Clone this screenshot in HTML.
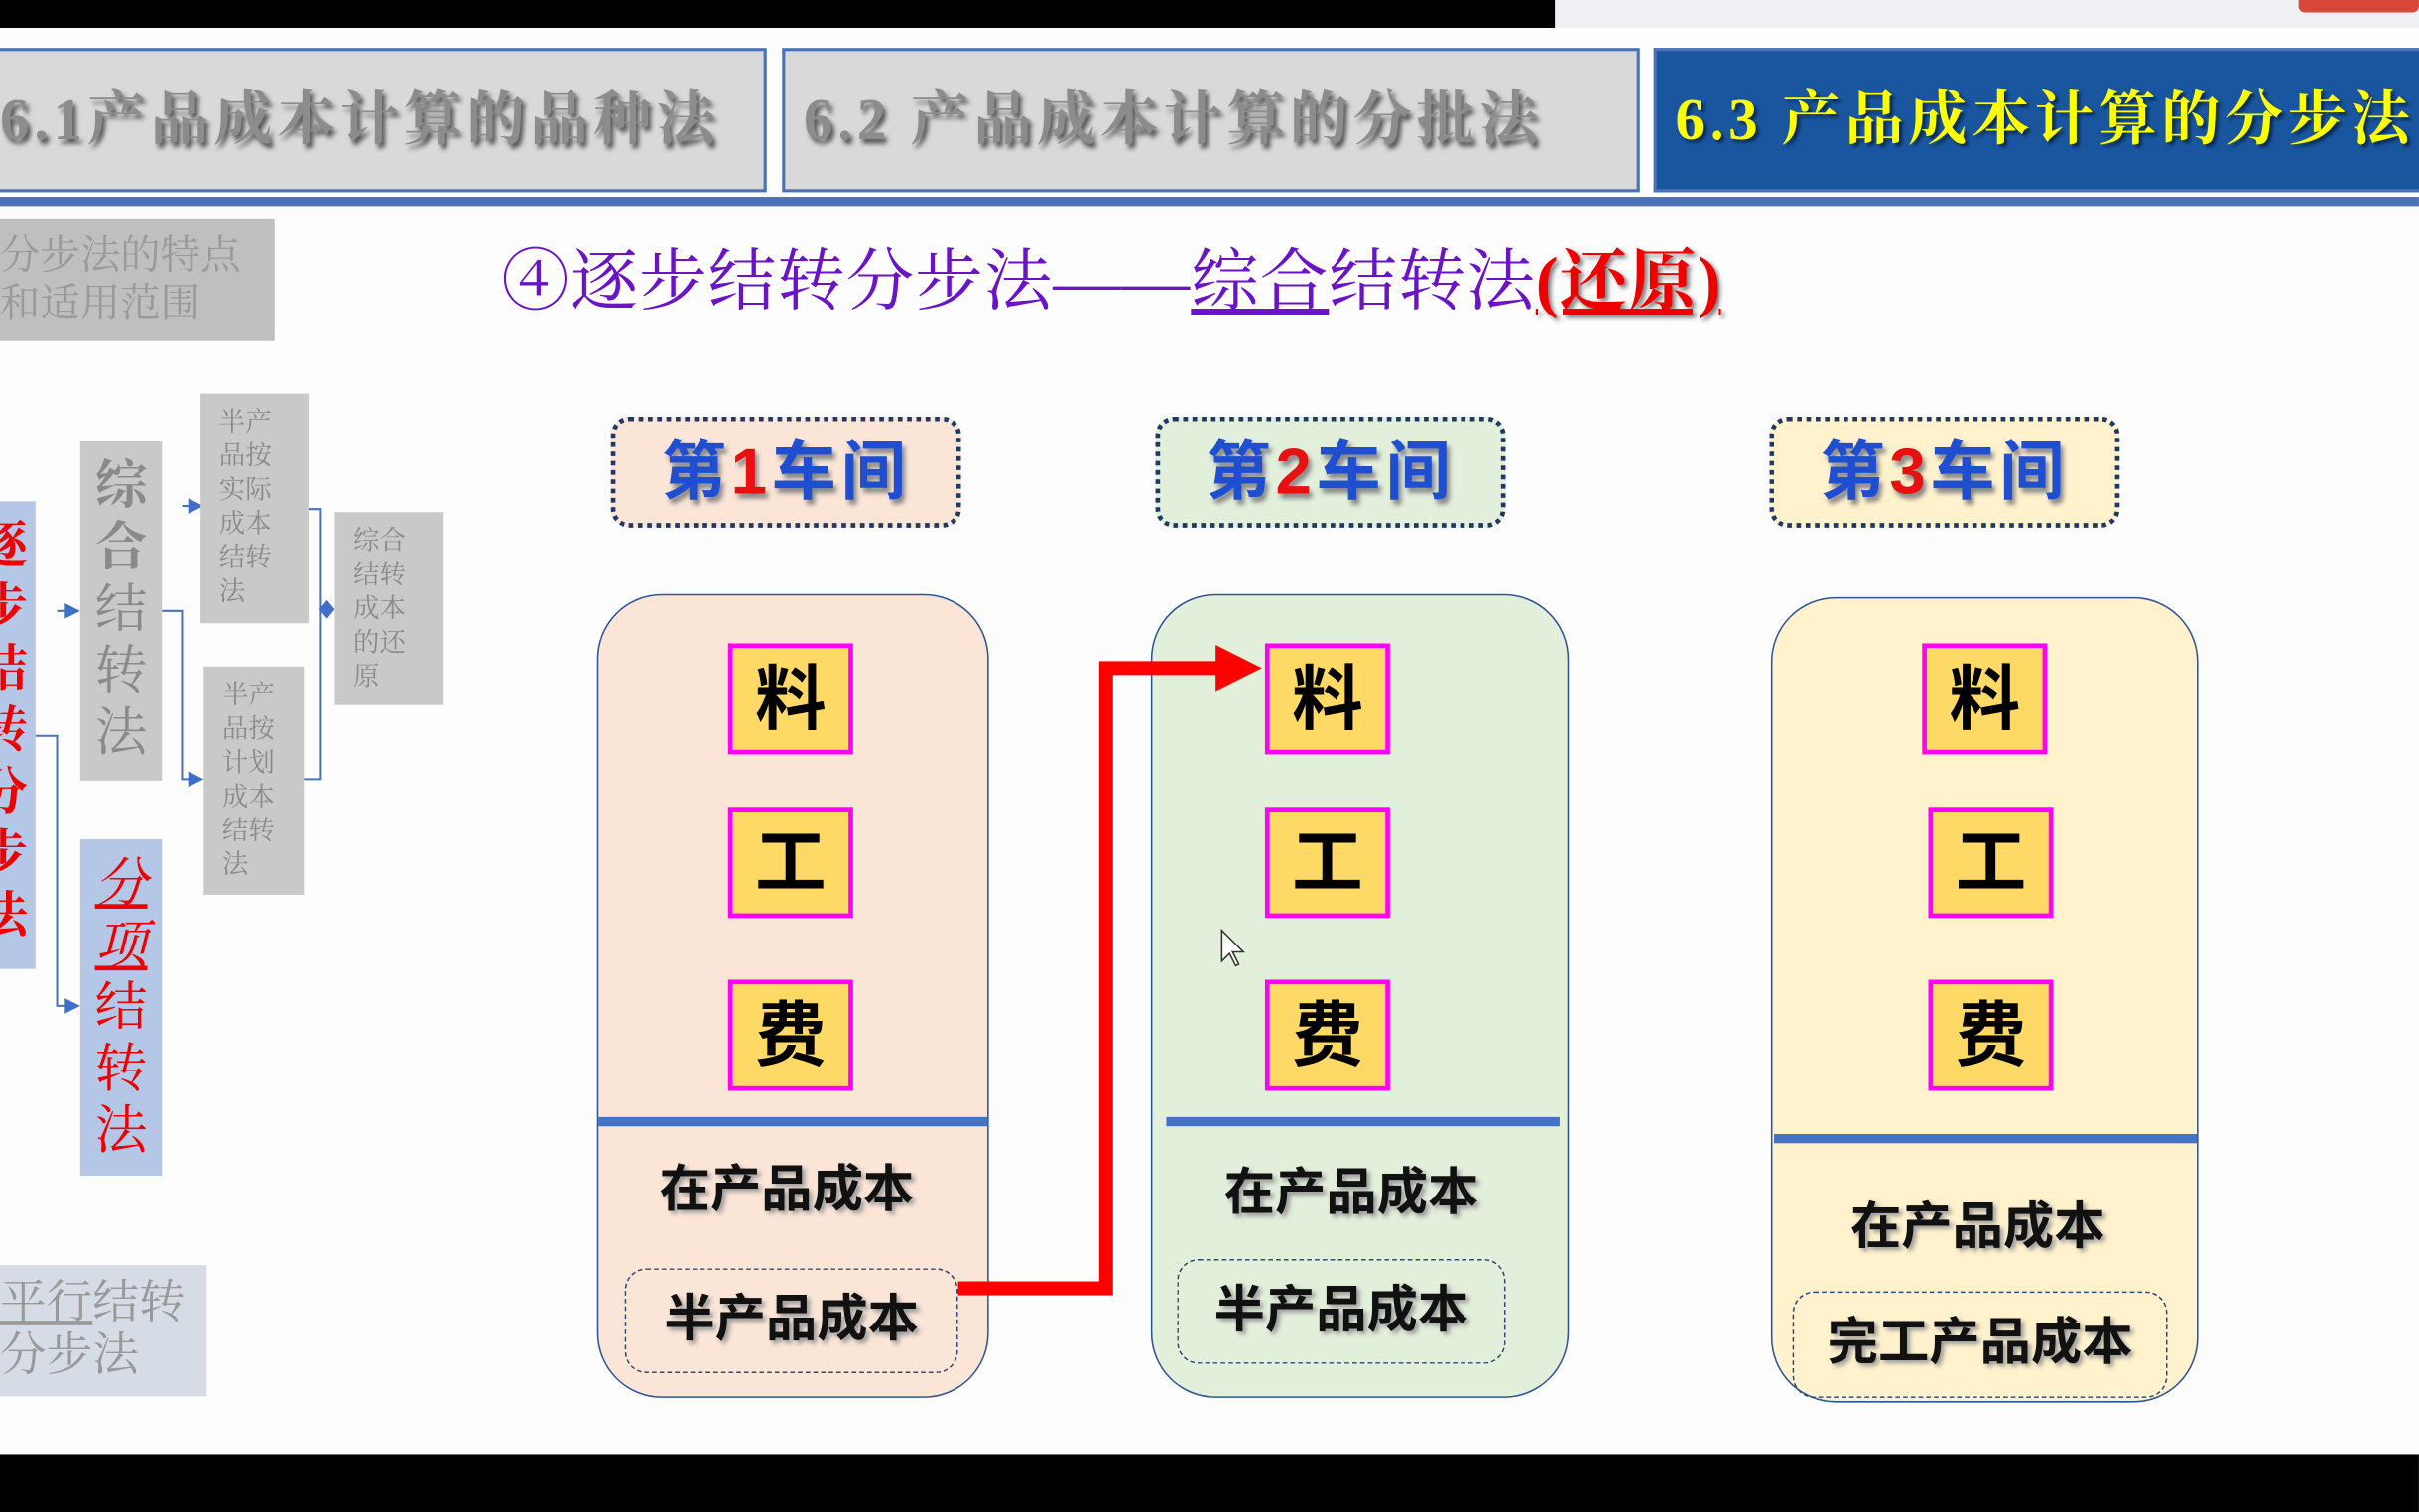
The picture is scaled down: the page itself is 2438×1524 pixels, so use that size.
<!DOCTYPE html>
<html><head><meta charset="utf-8"><style>
html,body{margin:0;padding:0;width:2438px;height:1524px;overflow:hidden;background:#fff}
#s{position:absolute;left:0;top:0;width:1568px;height:980px;transform:scale(1.5548,1.5551);transform-origin:0 0;background:#fdfdfd;font-family:"Liberation Serif","Noto Serif CJK SC",serif}
.a{position:absolute;box-sizing:border-box}
.tab{top:31px;height:94px;border:2px solid #4a72b8;background:#d9d9d9;font-weight:bold;font-size:38px;line-height:90px;white-space:nowrap;overflow:hidden;color:#8c8c8c;text-shadow:2px 3px 3px #555;letter-spacing:3px}
.lbl{border:3px dotted #1f3864;border-radius:12px;font-family:"Liberation Sans","Noto Sans CJK SC",sans-serif;font-weight:bold;font-size:42px;color:#1f4fd0;text-align:center;line-height:66px;text-shadow:2px 3px 3px #888;letter-spacing:3px}
.lbl b{color:#e81010}
.pan{border:1.8px solid #2f5597;border-radius:42px}
.box{width:81px;height:72px;background:#ffd966;border:3px solid #ff00ff;font-family:"Liberation Sans","Noto Sans CJK SC",sans-serif;font-weight:bold;font-size:46px;text-align:center;line-height:66px;color:#000}
.bar{height:6px;background:#4472c4}
.t{font-family:"Liberation Sans","Noto Sans CJK SC",sans-serif;font-weight:bold;font-size:33px;color:#111;text-align:center;text-shadow:2px 2px 3px #999;white-space:nowrap}
.d{border:1.5px dashed #2f4a7a;border-radius:14px;line-height:64px}
.g{background:#c9c9c9;color:#8a8a8a;font-size:17px;line-height:22px;padding:8px 0 0 12px}
</style></head><body><div id="s">
<div class="a" style="left:0;top:0;width:1008px;height:18px;background:#000"></div>
<div class="a" style="left:1008px;top:0;width:560px;height:18px;background:#eef0f3"></div>
<div class="a" style="left:1490px;top:0;width:78px;height:8px;background:#d9473b;border-radius:0 0 4px 4px"></div>
<div class="a tab" style="left:-2px;width:499px;padding-left:0">6.1产品成本计算的品种法</div>
<div class="a tab" style="left:507px;width:556px;padding-left:12px">6.2 产品成本计算的分批法</div>
<div class="a tab" style="left:1072px;width:500px;background:#1a56a0;color:#ffff00;text-shadow:2px 2px 2px #0a2a50;padding-left:12px">6.3 产品成本计算的分步法</div>
<div class="a" style="left:0;top:128px;width:1568px;height:6px;background:#4a72b8"></div>
<div class="a" style="left:0;top:142px;width:178px;height:79px;background:#bfbfbf;color:#9a9a9a;font-size:26px;line-height:31px;padding-top:8px;white-space:nowrap">分步法的特点<br>和适用范围</div>
<div class="a" style="left:325px;top:146px;font-size:44px;color:#6a14c8;white-space:nowrap;letter-spacing:0.7px;font-family:'Liberation Serif','Noto Serif CJK SC',serif">④逐步结转分步法——<u>综合</u>结转法<u style="color:#e00;font-weight:bold;text-shadow:2px 2px 3px #777">(还原)</u></div>
<!-- left diagram -->
<div class="a" style="left:0;top:325px;width:23px;height:303px;background:#b4c7e7;color:#e00;font-weight:bold;font-size:32px;line-height:40px;overflow:hidden;padding-top:8px"><div style="margin-left:-14px">逐<br>步<br>结<br>转<br>分<br>步<br>法</div></div>
<svg class="a" style="left:0;top:0" width="300" height="800">
<g stroke="#4a72b8" stroke-width="1.3" fill="none">
<path d="M23 477H37V652H45M37 396H45"/>
<path d="M105 396H118V505H126M118 328H126"/>
<path d="M200 330H208L208 505H197"/>
<path d="M208 395H212"/>
</g>
<g fill="#3f6fc8">
<path d="M42 391L52 396L42 401Z"/><path d="M42 647L52 652L42 657Z"/>
<path d="M122 323L132 328L122 333Z"/><path d="M122 500L132 505L122 510Z"/>
<path d="M207 395L212 389L217 395L212 401Z"/>
</g></svg>
<div class="a" style="left:52px;top:286px;width:53px;height:220px;background:#c9c9c9;color:#8a8a8a;font-size:34px;line-height:40px;text-align:center;padding-top:10px;font-weight:bold">综<br>合<br><span style="font-weight:normal">结<br>转<br>法</span></div>
<div class="a" style="left:52px;top:544px;width:53px;height:218px;background:#b4c7e7;color:#e00;font-size:34px;line-height:40px;text-align:center;padding-top:10px"><i><u>分</u><br><u>项</u></i><br>结<br>转<br>法</div>
<div class="a g" style="left:130px;top:255px;width:70px;height:149px">半产<br>品按<br>实际<br>成本<br>结转<br>法</div>
<div class="a g" style="left:132px;top:432px;width:65px;height:148px">半产<br>品按<br>计划<br>成本<br>结转<br>法</div>
<div class="a g" style="left:217px;top:332px;width:70px;height:125px">综合<br>结转<br>成本<br>的还<br>原</div>
<div class="a" style="left:0;top:820px;width:134px;height:85px;background:#d6dce5;color:#999;font-size:30px;line-height:34px;padding-top:8px;white-space:nowrap"><u>平行</u>结转<br>分步法</div>
<!-- workshop labels -->
<div class="a lbl" style="left:396px;top:270px;width:227px;height:72px;background:#fbe5d6">第<b>1</b>车间</div>
<div class="a lbl" style="left:749px;top:270px;width:227px;height:72px;background:#e2efda">第<b>2</b>车间</div>
<div class="a lbl" style="left:1147px;top:270px;width:227px;height:72px;background:#fff2cc">第<b>3</b>车间</div>
<!-- panels -->
<div class="a pan" style="left:387px;top:385px;width:254px;height:521px;background:#fbe5d6"></div>
<div class="a pan" style="left:746px;top:385px;width:271px;height:521px;background:#e2efda"></div>
<div class="a pan" style="left:1148px;top:387px;width:277px;height:522px;background:#fff2cc"></div>
<div class="a box" style="left:472px;top:417px">料</div>
<div class="a box" style="left:472px;top:523px">工</div>
<div class="a box" style="left:472px;top:635px">费</div>
<div class="a box" style="left:820px;top:417px">料</div>
<div class="a box" style="left:820px;top:523px">工</div>
<div class="a box" style="left:820px;top:635px">费</div>
<div class="a box" style="left:1246px;top:417px">料</div>
<div class="a box" style="left:1250px;top:523px">工</div>
<div class="a box" style="left:1250px;top:635px">费</div>
<div class="a bar" style="left:388px;top:724px;width:252px"></div>
<div class="a bar" style="left:756px;top:724px;width:255px"></div>
<div class="a bar" style="left:1150px;top:735px;width:274px"></div>
<div class="a t" style="left:387px;top:744px;width:246px">在产品成本</div>
<div class="a t" style="left:746px;top:746px;width:260px">在产品成本</div>
<div class="a t" style="left:1148px;top:768px;width:268px">在产品成本</div>
<div class="a t d" style="left:405px;top:822px;width:216px;height:68px">半产品成本</div>
<div class="a t d" style="left:763px;top:816px;width:213px;height:68px">半产品成本</div>
<div class="a t d" style="left:1162px;top:837px;width:243px;height:69px">完工产品成本</div>
<svg class="a" style="left:0;top:0" width="1568" height="980">
<path d="M621 835H717V433H792" fill="none" stroke="#f00" stroke-width="9"/>
<path d="M788 418L818 433L788 448Z" fill="#f00"/>
<path d="M792 603V623L797 618L801 626L803 625L799 617L806 617Z" fill="#fff" stroke="#333" stroke-width="1"/>
</svg>
<div class="a" style="left:0;top:943px;width:1568px;height:37px;background:#000"></div>
</div></body></html>
